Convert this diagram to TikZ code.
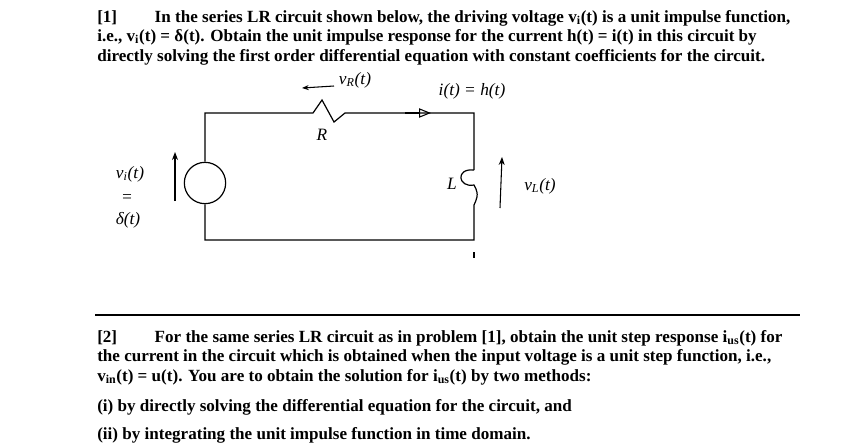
\documentclass[tikz,border=0pt]{standalone}
\usepackage{fontspec}
\setmainfont{Liberation Serif}
\usetikzlibrary{arrows.meta}
\begin{document}
\begin{tikzpicture}[x=0.75pt,y=-0.75pt,
  txt/.style={anchor=west,inner sep=0pt,font=\bfseries\fontsize{12.8}{14}\selectfont},
  hand/.style={inner sep=0pt,font=\fontsize{13}{14}\selectfont\itshape},
  wire/.style={line width=0.9pt}]
\useasboundingbox (0,0) rectangle (845,447);
\node[txt] (l1) at (97,18) {[1]\hspace{2.2em}In the series LR circuit shown below, the driving voltage v\textsubscript{i}(t) is a unit impulse function,};
\node[txt] (l2) at (97,37) {i.e., v\textsubscript{i}(t) = δ(t). Obtain the unit impulse response for the current h(t) = i(t) in this circuit by};
\node[txt] (l3) at (97,57) {directly solving the first order differential equation with constant coefficients for the circuit.};
% circuit
\coordinate (tl) at (205,113); \coordinate (tr) at (474,113);
\coordinate (bl) at (205,240); \coordinate (br) at (474,240);
\node[circle,draw,line width=0.9pt,minimum size=31pt,inner sep=0pt] (src) at (205,183) {};
\draw[wire] (src.north) -- (tl) -- (313,113) -- (322,100) -- (334,122) -- (345,113) -- (tr) -- (474,170);
\draw[wire] (474,170) .. controls (455,168) and (458,188) .. (474,185) .. controls (480,195) and (476,200) .. (474,205) -- (br) -- (bl) -- (src.south);
\draw[wire] (474,252) -- (474,258);
\draw[line width=0.8pt,-{Triangle[open,length=9pt,width=7pt]}] (405,113) -- (431,113);
\node[hand] (R) at (322,135) {R};
\node[hand] (vR) at (355,80) {v\textsubscript{R}(t)};
\draw[line width=0.8pt,-{Stealth[length=5pt]}] (334,86) -- (302,88);
\node[hand] (it) at (472,91) {i(t) = h(t)};
\node[hand] (L) at (452,184) {L};
\draw[line width=0.8pt,-{Stealth[length=6pt]}] (500,208) -- (502,157);
\node[hand] (vL) at (540,186) {v\textsubscript{L}(t)};
\node[hand] (vi) at (130,174) {v\textsubscript{i}(t)};
\node[hand] (eq) at (127,199) {=};
\node[hand] (dt) at (128,220) {δ(t)};
\draw[line width=0.8pt,-{Stealth[length=6pt]}] (175,201) -- (175,152);
% rule
\draw[line width=0.8pt] (95,315) -- (800,315);
\node[txt] (m1) at (97,338) {[2]\hspace{2.2em}For the same series LR circuit as in problem [1], obtain the unit step response i\textsubscript{us}(t) for};
\node[txt] (m2) at (97,357) {the current in the circuit which is obtained when the input voltage is a unit step function, i.e.,};
\node[txt] (m3) at (97,377) {v\textsubscript{in}(t) = u(t). You are to obtain the solution for i\textsubscript{us}(t) by two methods:};
\node[txt] (m4) at (97,407) {(i) by directly solving the differential equation for the circuit, and};
\node[txt] (m5) at (97,435) {(ii) by integrating the unit impulse function in time domain.};
\end{tikzpicture}
\end{document}
